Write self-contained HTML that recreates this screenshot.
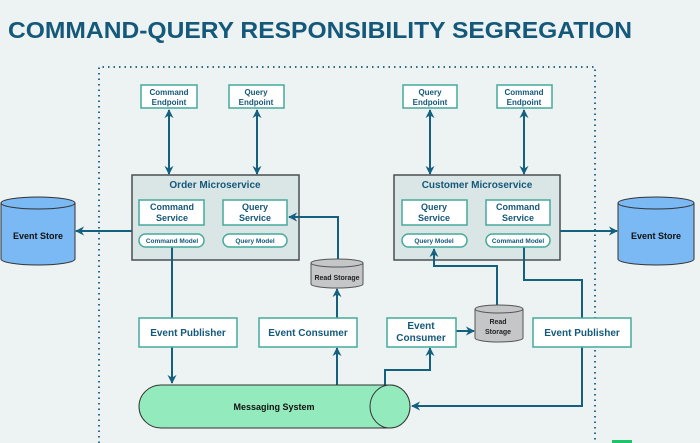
<!DOCTYPE html>
<html><head><meta charset="utf-8"><style>
body{margin:0;background:#edf2f3;}
svg{display:block;font-family:"Liberation Sans",sans-serif;font-weight:bold;}
</style></head><body>
<svg width="700" height="443" viewBox="0 0 700 443" xmlns="http://www.w3.org/2000/svg">
<defs>
<marker id="a" viewBox="0 0 10 10" refX="9" refY="5" markerWidth="9" markerHeight="9" markerUnits="userSpaceOnUse" orient="auto-start-reverse"><path d="M0,0 L10,5 L0,10 L3,5 z" fill="#13607f"/></marker>
</defs>
<rect width="700" height="443" fill="#edf2f3"/>
<text x="8" y="38" font-size="23" fill="#14587a" textLength="624" lengthAdjust="spacingAndGlyphs">COMMAND-QUERY RESPONSIBILITY SEGREGATION</text>
<path d="M99,443 V67 H595 V443" fill="none" stroke="#2a6a88" stroke-width="2" stroke-dasharray="1.5 4"/>

<!-- microservices -->
<rect x="132" y="175" width="167" height="85" fill="#dae5e5" stroke="#4a4f52" stroke-width="1.5"/>
<rect x="394" y="175" width="166" height="85" fill="#dae5e5" stroke="#4a4f52" stroke-width="1.5"/>

<g stroke="#13607f" stroke-width="2" fill="none">
<line x1="169" y1="110" x2="169" y2="174" marker-start="url(#a)" marker-end="url(#a)"/>
<line x1="257" y1="110" x2="257" y2="174" marker-start="url(#a)" marker-end="url(#a)"/>
<line x1="430" y1="110" x2="430" y2="174" marker-start="url(#a)" marker-end="url(#a)"/>
<line x1="524" y1="110" x2="524" y2="174" marker-start="url(#a)" marker-end="url(#a)"/>
<line x1="132" y1="231" x2="76" y2="231" marker-end="url(#a)"/>
<line x1="560" y1="231" x2="617" y2="231" marker-end="url(#a)"/>
<path d="M338,261 V217 H289" marker-end="url(#a)"/>
<line x1="172" y1="247" x2="172" y2="318"/>
<line x1="172" y1="347" x2="172" y2="383" marker-end="url(#a)"/>
<line x1="337" y1="385" x2="337" y2="348" marker-end="url(#a)"/>
<line x1="337" y1="318" x2="337" y2="289" marker-end="url(#a)"/>
<path d="M385,385 V370 H430 V348" marker-end="url(#a)"/>
<line x1="456" y1="331" x2="474" y2="331" marker-end="url(#a)"/>
<path d="M497,306 V266 H434 V249" marker-end="url(#a)"/>
<path d="M524,247 V280 H582 V318"/>
<path d="M582,347 V406 H412" marker-end="url(#a)"/>
</g>

<!-- endpoints -->
<g fill="#fff" stroke="#45a99c" stroke-width="1.5">
<rect x="141" y="85" width="56" height="23"/>
<rect x="229" y="85" width="55" height="23"/>
<rect x="403" y="85" width="54" height="23"/>
<rect x="497" y="85" width="55" height="23"/>
</g>
<g fill="#14587a" font-size="8" text-anchor="middle">
<text x="169" y="95">Command</text><text x="169" y="105">Endpoint</text>
<text x="256" y="95">Query</text><text x="256" y="105">Endpoint</text>
<text x="430" y="95">Query</text><text x="430" y="105">Endpoint</text>
<text x="524" y="95">Command</text><text x="524" y="105">Endpoint</text>
</g>

<g fill="#fff" stroke="#45a99c" stroke-width="1.5">
<rect x="139" y="200" width="65" height="25"/>
<rect x="223" y="200" width="64" height="25"/>
<rect x="402" y="200" width="65" height="25"/>
<rect x="486" y="200" width="64" height="25"/>
<rect x="139" y="234" width="65" height="13" rx="6.5"/>
<rect x="223" y="234" width="64" height="13" rx="6.5"/>
<rect x="402" y="234" width="65" height="13" rx="6.5"/>
<rect x="486" y="234" width="64" height="13" rx="6.5"/>
</g>
<g fill="#14587a" text-anchor="middle">
<text x="215" y="188" font-size="10">Order Microservice</text>
<text x="477" y="188" font-size="10">Customer Microservice</text>
<g font-size="9">
<text x="172" y="210">Command</text><text x="172" y="221">Service</text>
<text x="255" y="210">Query</text><text x="255" y="221">Service</text>
<text x="434" y="210">Query</text><text x="434" y="221">Service</text>
<text x="518" y="210">Command</text><text x="518" y="221">Service</text>
</g>
<g font-size="6.5">
<text x="172" y="243">Command Model</text>
<text x="255" y="243">Query Model</text>
<text x="434" y="243">Query Model</text>
<text x="518" y="243">Command Model</text>
</g>
</g>

<!-- event stores -->
<g stroke="#333" stroke-width="1" fill="#7ab9f4">
<path d="M1,203 V259 A37,6 0 0 0 75,259 V203"/>
<ellipse cx="38" cy="203" rx="37" ry="6"/>
<path d="M618,203 V259 A38,6 0 0 0 694,259 V203"/>
<ellipse cx="656" cy="203" rx="38" ry="6"/>
</g>
<g font-size="9" fill="#111" text-anchor="middle">
<text x="38" y="239">Event Store</text>
<text x="656" y="239">Event Store</text>
</g>

<!-- read storages -->
<g stroke="#555" stroke-width="1" fill="#c4c6c8">
<path d="M311,263 V284 A26,4 0 0 0 363,284 V263"/>
<ellipse cx="337" cy="263" rx="26" ry="4"/>
<path d="M475,309 V338 A24,4 0 0 0 523,338 V309"/>
<ellipse cx="499" cy="309" rx="24" ry="4"/>
</g>
<g font-size="7" fill="#222" text-anchor="middle">
<text x="337" y="280">Read Storage</text>
<text x="498" y="324">Read</text><text x="498" y="334">Storage</text>
</g>

<!-- publishers/consumers -->
<g fill="#fff" stroke="#45a99c" stroke-width="1.5">
<rect x="139" y="318" width="98" height="29"/>
<rect x="259" y="318" width="98" height="29"/>
<rect x="387" y="318" width="69" height="29"/>
<rect x="533" y="318" width="98" height="29"/>
</g>
<g fill="#14587a" font-size="10" text-anchor="middle">
<text x="188" y="336">Event Publisher</text>
<text x="308" y="336">Event Consumer</text>
<text x="421" y="329">Event</text><text x="421" y="341">Consumer</text>
<text x="582" y="336">Event Publisher</text>
</g>

<!-- messaging -->
<path d="M161,385 H390 A20,21.5 0 0 1 390,428 H161 A22,21.5 0 0 1 161,385 Z" fill="#93eabd" stroke="#333" stroke-width="1"/>
<ellipse cx="390" cy="406.5" rx="20" ry="21.5" fill="#93eabd" stroke="#333" stroke-width="1"/>
<text x="274" y="410" font-size="9" fill="#111" text-anchor="middle">Messaging System</text>
<rect x="612" y="440" width="20" height="3" fill="#1fc46a"/>
</svg>
</body></html>
